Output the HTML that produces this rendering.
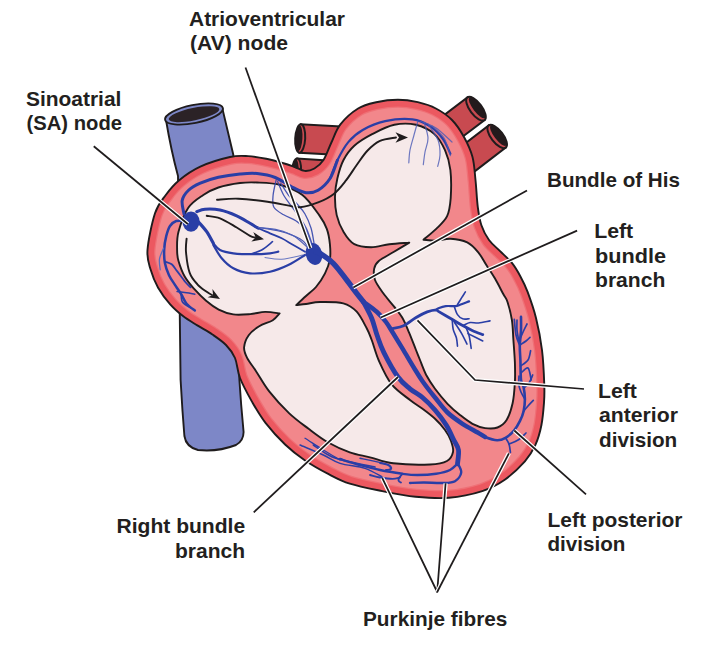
<!DOCTYPE html>
<html><head><meta charset="utf-8"><style>
html,body{margin:0;padding:0;background:#fff;width:720px;height:663px;overflow:hidden}
svg{position:absolute;left:0;top:0}
.t{font-family:"Liberation Sans",sans-serif;font-weight:bold;fill:#231f20;font-size:21px}
</style></head><body>
<svg width="720" height="663" viewBox="0 0 720 663">
<defs><clipPath id="hc"><path d="M147.5,250.0 C146.8,259.4 148.8,263.3 150.6,269.6 C152.4,275.9 154.8,281.9 158.1,287.7 C161.4,293.5 166.0,299.6 170.2,304.3 C174.3,309.0 178.5,312.5 183.0,316.0 C187.5,319.5 192.4,322.3 197.3,325.4 C202.2,328.5 207.6,331.2 212.4,334.5 C217.2,337.8 222.2,341.1 226.0,345.0 C229.8,348.9 232.7,352.5 235.0,358.0 C237.3,363.5 237.2,370.8 240.0,378.0 C242.8,385.2 247.6,393.9 251.8,401.4 C256.1,408.9 259.9,415.7 265.5,422.9 C271.1,430.1 278.6,438.3 285.1,444.5 C291.6,450.7 297.5,455.3 304.7,460.2 C311.9,465.1 320.7,470.0 328.2,473.9 C335.7,477.8 340.8,480.8 349.8,483.7 C358.8,486.6 371.2,488.9 382.2,491.1 C393.2,493.3 404.5,495.6 415.6,496.7 C426.7,497.8 437.8,498.7 448.9,497.8 C460.0,496.9 472.9,494.1 482.2,491.1 C491.4,488.1 497.3,484.9 504.4,480.0 C511.5,475.1 519.7,467.2 524.9,461.4 C530.1,455.5 532.6,450.9 535.4,444.9 C538.1,438.9 540.0,432.2 541.4,425.2 C542.8,418.1 543.5,409.3 544.0,402.6 C544.5,395.9 544.6,394.0 544.3,385.2 C544.0,376.4 543.4,361.2 542.0,350.0 C540.6,338.8 538.4,327.7 536.0,318.0 C533.6,308.3 530.2,298.9 527.6,291.9 C525.0,284.9 522.9,281.0 520.3,276.2 C517.7,271.4 515.3,267.1 511.9,262.9 C508.5,258.7 503.6,254.7 499.8,250.9 C496.0,247.1 492.1,244.3 489.0,240.0 C485.9,235.7 483.3,230.7 481.4,225.2 C479.5,219.7 478.8,214.6 477.8,207.1 C476.8,199.6 476.4,188.3 475.5,180.0 C474.6,171.7 474.4,164.2 472.5,157.0 C470.6,149.8 467.4,143.2 464.0,137.0 C460.6,130.8 456.7,124.8 452.0,120.0 C447.3,115.2 441.6,111.5 435.9,108.5 C430.2,105.5 424.1,103.7 417.8,102.2 C411.5,100.8 404.8,99.8 397.9,99.8 C391.0,99.8 382.8,100.8 376.2,102.2 C369.6,103.7 364.1,104.8 358.1,108.5 C352.1,112.2 344.8,118.7 340.4,124.4 C335.9,130.1 334.2,136.6 331.4,142.5 C328.6,148.4 326.3,155.7 323.5,160.0 C320.7,164.3 317.5,166.7 314.4,168.5 C311.2,170.3 307.9,171.2 304.6,170.9 C301.3,170.7 298.2,168.2 294.8,167.0 C291.4,165.8 289.1,164.9 284.3,163.5 C279.5,162.1 272.2,160.0 266.2,158.8 C260.2,157.6 254.1,156.4 248.1,156.1 C242.1,155.8 238.0,155.2 230.0,157.0 C222.0,158.8 208.8,162.7 200.3,166.6 C191.8,170.5 185.0,175.4 179.2,180.2 C173.4,185.0 169.6,189.7 165.6,195.2 C161.6,200.7 158.0,204.2 155.0,213.3 C152.0,222.4 148.2,240.6 147.5,250.0Z"/></clipPath></defs>
<path d="M166,120 Q171,150 178,176 L180.6,380 L182.5,411 L184.4,436 Q186,447 198,450 Q218,452 236,445 Q243.5,441 243.6,432 L241.2,405 L239.4,380 L236,300 L233.3,154.7 L222.5,109 Z" fill="#7d87c7" stroke="#1f1c1d" stroke-width="1.9"/>
<ellipse cx="194" cy="114" rx="29.5" ry="9" transform="rotate(-11.5 194 114)" fill="#7d87c7" stroke="#1f1c1d" stroke-width="1.9"/>
<ellipse cx="194" cy="114.2" rx="25.8" ry="6.2" transform="rotate(-11.5 194 114.2)" fill="#2b2226"/>
<path d="M345.8,126.8 L301.0,124.3 L299.4,152.7 L344.2,155.2Z" fill="#c84a50" stroke="#1f1c1d" stroke-width="2"/>
<ellipse cx="300.2" cy="138.5" rx="5" ry="14.2" transform="rotate(-176.8 300.2 138.5)" fill="#c84a50" stroke="#1f1c1d" stroke-width="2"/>
<ellipse cx="299.0" cy="138.4" rx="3.4" ry="12.8" transform="rotate(-176.8 299.0 138.4)" fill="#231a1c"/>
<path d="M335.8,161.0 L297.3,158.5 L295.7,182.5 L334.2,185.0Z" fill="#c84a50" stroke="#1f1c1d" stroke-width="2"/>
<ellipse cx="296.5" cy="170.5" rx="4.5" ry="12" transform="rotate(-176.3 296.5 170.5)" fill="#c84a50" stroke="#1f1c1d" stroke-width="2"/>
<ellipse cx="295.4" cy="170.4" rx="3.1" ry="10.8" transform="rotate(-176.3 295.4 170.4)" fill="#231a1c"/>
<path d="M452.6,144.3 L484.6,120.0 L467.4,97.4 L435.4,121.7Z" fill="#c84a50" stroke="#1f1c1d" stroke-width="2"/>
<ellipse cx="476.0" cy="108.7" rx="6" ry="14.2" transform="rotate(-37.2 476.0 108.7)" fill="#c84a50" stroke="#1f1c1d" stroke-width="2"/>
<ellipse cx="477.2" cy="107.8" rx="4.1" ry="12.8" transform="rotate(-37.2 477.2 107.8)" fill="#231a1c"/>
<path d="M468.5,176.1 L505.7,147.6 L488.7,125.4 L451.5,153.9Z" fill="#c84a50" stroke="#1f1c1d" stroke-width="2"/>
<ellipse cx="497.2" cy="136.5" rx="6" ry="14" transform="rotate(-37.5 497.2 136.5)" fill="#c84a50" stroke="#1f1c1d" stroke-width="2"/>
<ellipse cx="498.4" cy="135.6" rx="4.1" ry="12.6" transform="rotate(-37.5 498.4 135.6)" fill="#231a1c"/>
<g clip-path="url(#hc)"><path d="M147.5,250.0 C146.8,259.4 148.8,263.3 150.6,269.6 C152.4,275.9 154.8,281.9 158.1,287.7 C161.4,293.5 166.0,299.6 170.2,304.3 C174.3,309.0 178.5,312.5 183.0,316.0 C187.5,319.5 192.4,322.3 197.3,325.4 C202.2,328.5 207.6,331.2 212.4,334.5 C217.2,337.8 222.2,341.1 226.0,345.0 C229.8,348.9 232.7,352.5 235.0,358.0 C237.3,363.5 237.2,370.8 240.0,378.0 C242.8,385.2 247.6,393.9 251.8,401.4 C256.1,408.9 259.9,415.7 265.5,422.9 C271.1,430.1 278.6,438.3 285.1,444.5 C291.6,450.7 297.5,455.3 304.7,460.2 C311.9,465.1 320.7,470.0 328.2,473.9 C335.7,477.8 340.8,480.8 349.8,483.7 C358.8,486.6 371.2,488.9 382.2,491.1 C393.2,493.3 404.5,495.6 415.6,496.7 C426.7,497.8 437.8,498.7 448.9,497.8 C460.0,496.9 472.9,494.1 482.2,491.1 C491.4,488.1 497.3,484.9 504.4,480.0 C511.5,475.1 519.7,467.2 524.9,461.4 C530.1,455.5 532.6,450.9 535.4,444.9 C538.1,438.9 540.0,432.2 541.4,425.2 C542.8,418.1 543.5,409.3 544.0,402.6 C544.5,395.9 544.6,394.0 544.3,385.2 C544.0,376.4 543.4,361.2 542.0,350.0 C540.6,338.8 538.4,327.7 536.0,318.0 C533.6,308.3 530.2,298.9 527.6,291.9 C525.0,284.9 522.9,281.0 520.3,276.2 C517.7,271.4 515.3,267.1 511.9,262.9 C508.5,258.7 503.6,254.7 499.8,250.9 C496.0,247.1 492.1,244.3 489.0,240.0 C485.9,235.7 483.3,230.7 481.4,225.2 C479.5,219.7 478.8,214.6 477.8,207.1 C476.8,199.6 476.4,188.3 475.5,180.0 C474.6,171.7 474.4,164.2 472.5,157.0 C470.6,149.8 467.4,143.2 464.0,137.0 C460.6,130.8 456.7,124.8 452.0,120.0 C447.3,115.2 441.6,111.5 435.9,108.5 C430.2,105.5 424.1,103.7 417.8,102.2 C411.5,100.8 404.8,99.8 397.9,99.8 C391.0,99.8 382.8,100.8 376.2,102.2 C369.6,103.7 364.1,104.8 358.1,108.5 C352.1,112.2 344.8,118.7 340.4,124.4 C335.9,130.1 334.2,136.6 331.4,142.5 C328.6,148.4 326.3,155.7 323.5,160.0 C320.7,164.3 317.5,166.7 314.4,168.5 C311.2,170.3 307.9,171.2 304.6,170.9 C301.3,170.7 298.2,168.2 294.8,167.0 C291.4,165.8 289.1,164.9 284.3,163.5 C279.5,162.1 272.2,160.0 266.2,158.8 C260.2,157.6 254.1,156.4 248.1,156.1 C242.1,155.8 238.0,155.2 230.0,157.0 C222.0,158.8 208.8,162.7 200.3,166.6 C191.8,170.5 185.0,175.4 179.2,180.2 C173.4,185.0 169.6,189.7 165.6,195.2 C161.6,200.7 158.0,204.2 155.0,213.3 C152.0,222.4 148.2,240.6 147.5,250.0Z" fill="#f2878b" stroke="#ef7076" stroke-width="16"/><path d="M147.5,250.0 C146.8,259.4 148.8,263.3 150.6,269.6 C152.4,275.9 154.8,281.9 158.1,287.7 C161.4,293.5 166.0,299.6 170.2,304.3 C174.3,309.0 178.5,312.5 183.0,316.0 C187.5,319.5 192.4,322.3 197.3,325.4 C202.2,328.5 207.6,331.2 212.4,334.5 C217.2,337.8 222.2,341.1 226.0,345.0 C229.8,348.9 232.7,352.5 235.0,358.0 C237.3,363.5 237.2,370.8 240.0,378.0 C242.8,385.2 247.6,393.9 251.8,401.4 C256.1,408.9 259.9,415.7 265.5,422.9 C271.1,430.1 278.6,438.3 285.1,444.5 C291.6,450.7 297.5,455.3 304.7,460.2 C311.9,465.1 320.7,470.0 328.2,473.9 C335.7,477.8 340.8,480.8 349.8,483.7 C358.8,486.6 371.2,488.9 382.2,491.1 C393.2,493.3 404.5,495.6 415.6,496.7 C426.7,497.8 437.8,498.7 448.9,497.8 C460.0,496.9 472.9,494.1 482.2,491.1 C491.4,488.1 497.3,484.9 504.4,480.0 C511.5,475.1 519.7,467.2 524.9,461.4 C530.1,455.5 532.6,450.9 535.4,444.9 C538.1,438.9 540.0,432.2 541.4,425.2 C542.8,418.1 543.5,409.3 544.0,402.6 C544.5,395.9 544.6,394.0 544.3,385.2 C544.0,376.4 543.4,361.2 542.0,350.0 C540.6,338.8 538.4,327.7 536.0,318.0 C533.6,308.3 530.2,298.9 527.6,291.9 C525.0,284.9 522.9,281.0 520.3,276.2 C517.7,271.4 515.3,267.1 511.9,262.9 C508.5,258.7 503.6,254.7 499.8,250.9 C496.0,247.1 492.1,244.3 489.0,240.0 C485.9,235.7 483.3,230.7 481.4,225.2 C479.5,219.7 478.8,214.6 477.8,207.1 C476.8,199.6 476.4,188.3 475.5,180.0 C474.6,171.7 474.4,164.2 472.5,157.0 C470.6,149.8 467.4,143.2 464.0,137.0 C460.6,130.8 456.7,124.8 452.0,120.0 C447.3,115.2 441.6,111.5 435.9,108.5 C430.2,105.5 424.1,103.7 417.8,102.2 C411.5,100.8 404.8,99.8 397.9,99.8 C391.0,99.8 382.8,100.8 376.2,102.2 C369.6,103.7 364.1,104.8 358.1,108.5 C352.1,112.2 344.8,118.7 340.4,124.4 C335.9,130.1 334.2,136.6 331.4,142.5 C328.6,148.4 326.3,155.7 323.5,160.0 C320.7,164.3 317.5,166.7 314.4,168.5 C311.2,170.3 307.9,171.2 304.6,170.9 C301.3,170.7 298.2,168.2 294.8,167.0 C291.4,165.8 289.1,164.9 284.3,163.5 C279.5,162.1 272.2,160.0 266.2,158.8 C260.2,157.6 254.1,156.4 248.1,156.1 C242.1,155.8 238.0,155.2 230.0,157.0 C222.0,158.8 208.8,162.7 200.3,166.6 C191.8,170.5 185.0,175.4 179.2,180.2 C173.4,185.0 169.6,189.7 165.6,195.2 C161.6,200.7 158.0,204.2 155.0,213.3 C152.0,222.4 148.2,240.6 147.5,250.0Z" fill="none" stroke="#ec5860" stroke-width="13.5"/></g>
<path d="M147.5,250.0 C146.8,259.4 148.8,263.3 150.6,269.6 C152.4,275.9 154.8,281.9 158.1,287.7 C161.4,293.5 166.0,299.6 170.2,304.3 C174.3,309.0 178.5,312.5 183.0,316.0 C187.5,319.5 192.4,322.3 197.3,325.4 C202.2,328.5 207.6,331.2 212.4,334.5 C217.2,337.8 222.2,341.1 226.0,345.0 C229.8,348.9 232.7,352.5 235.0,358.0 C237.3,363.5 237.2,370.8 240.0,378.0 C242.8,385.2 247.6,393.9 251.8,401.4 C256.1,408.9 259.9,415.7 265.5,422.9 C271.1,430.1 278.6,438.3 285.1,444.5 C291.6,450.7 297.5,455.3 304.7,460.2 C311.9,465.1 320.7,470.0 328.2,473.9 C335.7,477.8 340.8,480.8 349.8,483.7 C358.8,486.6 371.2,488.9 382.2,491.1 C393.2,493.3 404.5,495.6 415.6,496.7 C426.7,497.8 437.8,498.7 448.9,497.8 C460.0,496.9 472.9,494.1 482.2,491.1 C491.4,488.1 497.3,484.9 504.4,480.0 C511.5,475.1 519.7,467.2 524.9,461.4 C530.1,455.5 532.6,450.9 535.4,444.9 C538.1,438.9 540.0,432.2 541.4,425.2 C542.8,418.1 543.5,409.3 544.0,402.6 C544.5,395.9 544.6,394.0 544.3,385.2 C544.0,376.4 543.4,361.2 542.0,350.0 C540.6,338.8 538.4,327.7 536.0,318.0 C533.6,308.3 530.2,298.9 527.6,291.9 C525.0,284.9 522.9,281.0 520.3,276.2 C517.7,271.4 515.3,267.1 511.9,262.9 C508.5,258.7 503.6,254.7 499.8,250.9 C496.0,247.1 492.1,244.3 489.0,240.0 C485.9,235.7 483.3,230.7 481.4,225.2 C479.5,219.7 478.8,214.6 477.8,207.1 C476.8,199.6 476.4,188.3 475.5,180.0 C474.6,171.7 474.4,164.2 472.5,157.0 C470.6,149.8 467.4,143.2 464.0,137.0 C460.6,130.8 456.7,124.8 452.0,120.0 C447.3,115.2 441.6,111.5 435.9,108.5 C430.2,105.5 424.1,103.7 417.8,102.2 C411.5,100.8 404.8,99.8 397.9,99.8 C391.0,99.8 382.8,100.8 376.2,102.2 C369.6,103.7 364.1,104.8 358.1,108.5 C352.1,112.2 344.8,118.7 340.4,124.4 C335.9,130.1 334.2,136.6 331.4,142.5 C328.6,148.4 326.3,155.7 323.5,160.0 C320.7,164.3 317.5,166.7 314.4,168.5 C311.2,170.3 307.9,171.2 304.6,170.9 C301.3,170.7 298.2,168.2 294.8,167.0 C291.4,165.8 289.1,164.9 284.3,163.5 C279.5,162.1 272.2,160.0 266.2,158.8 C260.2,157.6 254.1,156.4 248.1,156.1 C242.1,155.8 238.0,155.2 230.0,157.0 C222.0,158.8 208.8,162.7 200.3,166.6 C191.8,170.5 185.0,175.4 179.2,180.2 C173.4,185.0 169.6,189.7 165.6,195.2 C161.6,200.7 158.0,204.2 155.0,213.3 C152.0,222.4 148.2,240.6 147.5,250.0Z" fill="none" stroke="#1f1c1d" stroke-width="1.9"/>
<path d="M279.6,313.4 C277.2,313.1 270.1,311.8 265.2,311.9 C260.3,312.0 255.5,313.7 250.2,314.1 C244.9,314.5 238.6,315.1 233.3,314.4 C228.1,313.6 223.2,311.9 218.7,309.6 C214.2,307.3 210.1,304.2 206.1,300.8 C202.1,297.4 198.0,293.2 194.4,289.2 C190.8,285.1 187.3,281.2 184.7,276.5 C182.0,271.8 179.8,265.4 178.5,261.0 C177.2,256.6 177.1,254.9 177.1,250.0 C177.1,245.1 176.6,238.8 178.5,231.8 C180.4,224.8 184.2,213.9 188.3,207.8 C192.4,201.7 198.3,198.4 203.3,195.0 C208.3,191.6 212.3,189.5 218.4,187.5 C224.5,185.5 233.6,183.8 240.0,183.0 C246.4,182.2 250.3,182.2 257.1,182.5 C263.9,182.8 273.1,182.9 280.7,185.0 C288.2,187.1 296.0,190.0 302.4,195.0 C308.8,200.0 315.1,209.4 319.2,215.1 C323.3,220.8 325.0,224.1 326.8,228.9 C328.6,233.8 329.4,239.1 329.9,244.2 C330.4,249.3 330.7,254.5 329.9,259.4 C329.1,264.2 327.3,268.7 325.0,273.3 C322.7,277.9 319.2,283.2 316.0,287.0 C312.8,290.8 309.3,293.0 306.0,296.0 C302.7,299.0 297.8,303.6 296.2,305.1 C297.8,304.9 302.0,304.5 306.0,304.0 C310.0,303.5 313.8,302.1 320.0,302.0 C326.2,301.9 337.2,301.7 343.3,303.3 C349.4,304.9 352.8,307.5 356.7,311.7 C360.6,315.9 364.2,323.6 366.7,328.3 C369.2,333.0 369.6,334.6 371.7,340.0 C373.8,345.4 375.7,353.6 379.0,361.0 C382.3,368.4 386.5,377.9 391.7,384.4 C396.9,390.9 404.9,395.9 410.0,400.0 C415.1,404.1 418.3,405.6 422.5,408.8 C426.7,411.9 431.2,415.2 435.0,418.8 C438.8,422.3 442.3,426.3 445.0,430.0 C447.7,433.7 449.7,437.3 451.0,441.0 C452.3,444.7 453.7,448.7 453.0,452.0 C452.3,455.3 450.8,458.9 447.0,461.0 C443.2,463.1 438.9,464.1 430.0,464.5 C421.1,464.9 403.3,464.5 393.3,463.3 C383.3,462.1 377.2,459.1 370.0,457.3 C362.8,455.5 356.8,454.9 349.8,452.4 C342.8,449.9 335.1,446.4 328.2,442.5 C321.3,438.6 315.1,433.7 308.6,428.8 C302.1,423.9 295.5,419.3 289.0,413.1 C282.5,406.9 274.9,398.6 269.4,391.6 C263.9,384.7 259.9,377.0 256.2,371.4 C252.5,365.8 249.1,361.9 247.1,357.9 C245.1,353.9 243.8,351.1 244.1,347.3 C244.4,343.5 246.2,338.7 248.7,335.2 C251.2,331.7 255.2,328.7 259.2,326.2 C263.2,323.7 269.4,322.3 272.8,320.2 C276.2,318.1 278.5,314.5 279.6,313.4Z" fill="#f6e9e9" stroke="#1f1c1d" stroke-width="1.9" stroke-linejoin="round"/>
<path d="M423.5,239.7 C425.6,237.9 432.3,232.8 436.2,228.9 C440.1,225.0 444.7,221.3 447.1,216.2 C449.5,211.1 450.1,205.8 450.7,198.1 C451.2,190.4 451.3,178.1 450.4,170.1 C449.4,162.1 447.7,156.2 445.0,150.2 C442.3,144.2 438.9,138.1 434.1,133.9 C429.3,129.7 422.6,126.3 416.0,124.8 C409.4,123.3 401.5,123.3 394.3,124.8 C387.1,126.3 379.3,130.4 372.6,133.9 C365.9,137.4 359.2,141.3 354.3,145.7 C349.4,150.1 346.2,154.8 343.4,160.2 C340.6,165.6 338.8,172.3 337.4,178.3 C336.0,184.3 335.1,190.2 335.0,196.3 C334.9,202.4 335.3,209.2 336.7,215.1 C338.1,221.0 340.7,227.2 343.6,232.0 C346.5,236.8 349.7,241.7 354.3,244.2 C358.9,246.7 365.2,247.2 371.1,247.2 C377.0,247.2 383.0,245.0 389.4,244.2 C395.8,243.4 406.0,242.9 409.3,242.6 C406.8,244.1 399.1,248.7 394.0,251.8 C388.9,254.9 382.1,258.2 378.8,261.0 C375.5,263.8 374.8,265.4 374.2,268.6 C373.6,271.8 373.5,275.9 375.0,280.0 C376.5,284.1 380.2,288.9 383.3,293.3 C386.4,297.7 390.8,302.4 393.9,306.4 C397.0,310.4 399.6,313.1 402.2,317.5 C404.8,321.9 406.9,327.4 409.2,332.8 C411.5,338.2 414.2,345.5 416.0,350.0 C417.8,354.5 418.3,355.8 420.0,360.0 C421.7,364.2 423.8,370.2 426.2,375.0 C428.8,379.8 431.5,384.0 435.0,388.8 C438.5,393.5 443.3,399.4 447.5,403.8 C451.7,408.1 455.8,411.7 460.0,415.0 C464.2,418.3 468.3,421.6 472.5,423.8 C476.7,425.9 480.8,427.5 485.0,428.1 C489.2,428.7 493.9,428.9 497.5,427.5 C501.1,426.1 504.1,424.0 506.6,420.0 C509.1,416.0 511.2,409.6 512.6,403.3 C514.0,397.0 514.5,389.0 514.9,382.2 C515.3,375.4 515.1,369.6 514.9,362.6 C514.6,355.6 513.9,347.1 513.4,340.0 C512.9,332.9 512.9,326.3 511.9,320.0 C510.9,313.7 508.9,306.3 507.5,302.0 C506.1,297.7 505.5,298.2 503.4,294.3 C501.3,290.4 497.8,283.4 495.0,278.6 C492.2,273.8 489.3,269.7 486.5,265.3 C483.7,260.9 481.3,255.9 478.1,252.1 C474.9,248.3 471.8,244.6 467.2,242.4 C462.6,240.2 455.9,239.1 450.7,238.8 C445.5,238.5 440.7,240.4 436.2,240.6 C431.7,240.8 425.6,239.8 423.5,239.7Z" fill="#f6e9e9" stroke="#1f1c1d" stroke-width="1.9" stroke-linejoin="round"/>
<path d="M276.1,180.1 C275.6,182.6 273.5,190.7 273.1,195.2 C272.7,199.7 272.1,204.0 273.9,207.3 C275.7,210.6 280.0,212.6 283.7,214.8 C287.4,217.1 292.3,218.5 295.8,220.8 C299.3,223.1 302.3,224.6 304.8,228.4 C307.3,232.2 309.8,241.0 310.8,243.5" fill="none" stroke="#3547ad" stroke-width="1.3" stroke-linecap="round" stroke-linejoin="round" opacity="0.9"/>
<path d="M277.6,181.6 C278.6,183.9 281.4,191.2 283.7,195.2 C286.0,199.2 288.7,202.3 291.2,205.8 C293.7,209.3 296.3,212.5 298.8,216.3 C301.3,220.1 304.1,223.8 306.3,228.4 C308.5,233.0 311.1,241.4 312.0,244.0" fill="none" stroke="#3547ad" stroke-width="1.3" stroke-linecap="round" stroke-linejoin="round" opacity="0.9"/>
<path d="M280.7,183.1 C282.2,185.4 286.9,193.2 289.7,196.7 C292.5,200.2 294.8,201.3 297.3,204.2 C299.9,207.1 302.7,210.0 305.0,214.0 C307.3,218.0 309.5,223.2 311.0,228.0 C312.5,232.8 313.5,240.5 314.0,243.0" fill="none" stroke="#3547ad" stroke-width="1.3" stroke-linecap="round" stroke-linejoin="round" opacity="0.9"/>
<path d="M255.0,226.9 C259.3,227.7 273.1,229.4 280.7,231.4 C288.2,233.4 295.8,236.5 300.3,239.0 C304.8,241.5 306.6,245.2 307.8,246.5" fill="none" stroke="#3547ad" stroke-width="1.3" stroke-linecap="round" stroke-linejoin="round" opacity="0.9"/>
<path d="M184.0,214.0 C183.7,211.8 181.5,204.4 182.2,200.5 C182.9,196.6 185.3,193.4 188.3,190.5 C191.3,187.6 195.3,185.4 200.3,183.2 C205.3,181.0 211.8,178.8 218.4,177.3 C225.0,175.8 233.6,174.6 240.0,174.0 C246.4,173.4 251.2,172.9 257.1,173.5 C263.0,174.1 269.2,175.1 275.2,177.5 C281.2,179.9 288.2,185.2 293.3,187.7 C298.4,190.2 301.9,192.3 306.0,192.7 C310.1,193.1 314.1,192.7 318.1,190.3 C322.1,187.9 327.0,183.3 330.2,178.3 C333.4,173.3 336.2,163.2 337.4,160.2" fill="none" stroke="#2a3ea6" stroke-width="3" stroke-linecap="round" stroke-linejoin="round" opacity="1"/>
<path d="M330.2,178.3 C331.4,175.3 334.4,166.2 337.4,160.2 C340.4,154.2 344.1,147.1 348.3,142.1 C352.5,137.1 356.6,133.5 362.7,130.0 C368.8,126.5 376.9,123.0 385.2,121.2 C393.5,119.4 404.8,118.5 412.4,119.4 C419.9,120.3 425.4,123.3 430.5,126.6 C435.6,129.9 439.9,134.8 443.2,139.3 C446.5,143.8 449.2,151.4 450.4,153.8" fill="none" stroke="#2a3ea6" stroke-width="2.2" stroke-linecap="round" stroke-linejoin="round" opacity="1"/>
<path d="M418.0,121.0 C417.3,123.3 415.3,130.2 414.0,135.0 C412.7,139.8 410.9,145.4 410.0,150.0 C409.1,154.6 409.0,160.7 408.8,162.8" fill="none" stroke="#4a5ab5" stroke-width="1.2" stroke-linecap="round" stroke-linejoin="round" opacity="0.8"/>
<path d="M424.0,122.0 C424.7,124.7 427.8,133.0 428.0,138.0 C428.2,143.0 425.8,147.6 425.0,152.0 C424.2,156.4 423.6,162.5 423.3,164.6" fill="none" stroke="#4a5ab5" stroke-width="1.2" stroke-linecap="round" stroke-linejoin="round" opacity="0.8"/>
<path d="M428.0,124.0 C429.7,126.7 436.0,134.8 438.0,140.0 C440.0,145.2 440.1,150.6 440.0,155.0 C439.9,159.4 438.1,164.5 437.7,166.4" fill="none" stroke="#4a5ab5" stroke-width="1.2" stroke-linecap="round" stroke-linejoin="round" opacity="0.8"/>
<path d="M432.0,126.0 C434.0,128.0 440.9,133.1 444.0,138.0 C447.1,142.9 449.3,152.7 450.4,155.6" fill="none" stroke="#4a5ab5" stroke-width="1.2" stroke-linecap="round" stroke-linejoin="round" opacity="0.8"/>
<path d="M420.0,121.0 C422.7,122.2 430.7,124.5 436.0,128.0 C441.3,131.5 449.3,139.7 452.0,142.0" fill="none" stroke="#4a5ab5" stroke-width="1.2" stroke-linecap="round" stroke-linejoin="round" opacity="0.8"/>
<path d="M196.7,211.7 C198.1,211.3 201.1,209.5 205.0,209.2 C208.9,208.9 214.7,208.9 220.0,210.0 C225.3,211.1 231.7,213.6 236.7,215.8 C241.7,218.0 246.4,221.2 250.0,223.3 C253.6,225.4 256.9,227.5 258.3,228.3" fill="none" stroke="#2a3ea6" stroke-width="3" stroke-linecap="round" stroke-linejoin="round" opacity="1"/>
<path d="M250.0,223.3 C251.4,224.1 255.0,226.6 258.3,228.3 C261.6,230.0 266.1,231.6 270.0,233.3 C273.9,235.0 277.8,236.4 281.7,238.3 C285.6,240.2 289.4,242.8 293.3,245.0 C297.2,247.2 303.1,250.6 305.0,251.7" fill="none" stroke="#2a3ea6" stroke-width="1.8" stroke-linecap="round" stroke-linejoin="round" opacity="1"/>
<path d="M258.3,227.5 C261.6,227.9 272.2,228.5 278.3,230.0 C284.4,231.5 290.0,233.6 295.0,236.7 C300.0,239.8 306.1,246.4 308.3,248.3" fill="none" stroke="#4f60b8" stroke-width="1.1" stroke-linecap="round" stroke-linejoin="round" opacity="1"/>
<path d="M198.3,221.7 C199.7,223.4 204.2,228.1 206.7,231.7 C209.2,235.3 212.2,241.4 213.3,243.3" fill="none" stroke="#2a3ea6" stroke-width="3.2" stroke-linecap="round" stroke-linejoin="round" opacity="1"/>
<path d="M213.3,243.3 C214.4,244.4 216.7,248.3 220.0,250.0 C223.3,251.7 227.8,252.6 233.3,253.3 C238.9,254.0 247.2,254.2 253.3,254.2 C259.4,254.2 265.8,253.7 270.0,253.3 C274.2,252.9 276.9,252.0 278.3,251.7" fill="none" stroke="#2a3ea6" stroke-width="2.2" stroke-linecap="round" stroke-linejoin="round" opacity="1"/>
<path d="M250.0,254.2 C251.9,253.5 257.9,252.1 261.7,250.0 C265.4,247.9 270.7,243.1 272.5,241.7" fill="none" stroke="#2a3ea6" stroke-width="1.6" stroke-linecap="round" stroke-linejoin="round" opacity="1"/>
<path d="M265.0,257.5 C267.8,257.8 275.3,259.6 281.7,259.2 C288.1,258.8 299.7,255.7 303.3,255.0" fill="none" stroke="#6a78c2" stroke-width="1.1" stroke-linecap="round" stroke-linejoin="round" opacity="1"/>
<path d="M213.3,245.0 C214.7,247.2 218.4,254.4 221.7,258.3 C225.0,262.2 228.6,265.8 233.3,268.3 C238.0,270.8 243.9,272.7 250.0,273.3 C256.1,273.9 263.6,273.1 270.0,271.7 C276.4,270.3 282.5,267.8 288.3,265.0 C294.1,262.2 302.2,256.7 305.0,255.0" fill="none" stroke="#2a3ea6" stroke-width="2.2" stroke-linecap="round" stroke-linejoin="round" opacity="1"/>
<path d="M185.2,220.9 C183.7,220.9 178.7,220.2 176.2,221.0 C173.7,221.8 171.7,223.5 170.0,226.0 C168.3,228.5 167.3,232.0 166.3,235.9 C165.3,239.8 164.4,244.9 164.2,249.4 C164.0,253.9 164.1,258.7 164.9,263.0 C165.7,267.3 167.2,271.3 169.0,275.2 C170.8,279.1 173.8,282.9 175.8,286.1 C177.8,289.3 179.4,291.3 181.2,294.2 C183.0,297.1 184.3,301.0 186.6,303.7 C188.9,306.4 193.4,309.4 194.8,310.5" fill="none" stroke="#2a3ea6" stroke-width="2.5" stroke-linecap="round" stroke-linejoin="round" opacity="1"/>
<path d="M164.9,261.6 C166.0,262.1 169.7,262.7 171.7,264.3 C173.7,265.9 174.8,268.2 177.1,271.1 C179.4,274.1 183.0,279.3 185.3,282.0 C187.6,284.7 189.8,286.5 190.7,287.4" fill="none" stroke="#2a3ea6" stroke-width="1.8" stroke-linecap="round" stroke-linejoin="round" opacity="1"/>
<path d="M177.1,291.5 C178.7,291.7 183.6,292.4 186.6,292.8 C189.6,293.2 193.4,294.0 194.8,294.2" fill="none" stroke="#2a3ea6" stroke-width="1.6" stroke-linecap="round" stroke-linejoin="round" opacity="1"/>
<path d="M181.2,294.2 C181.4,295.6 181.0,300.0 182.6,302.3 C184.2,304.6 189.3,306.9 190.7,307.8" fill="none" stroke="#2a3ea6" stroke-width="1.6" stroke-linecap="round" stroke-linejoin="round" opacity="1"/>
<path d="M163.6,248.0 C162.9,249.8 160.1,255.3 159.5,258.9 C158.9,262.5 160.1,268.0 160.2,269.8" fill="none" stroke="#5a6bbd" stroke-width="1.3" stroke-linecap="round" stroke-linejoin="round" opacity="1"/>
<ellipse cx="191" cy="221.6" rx="8.6" ry="10.2" fill="#2a3ea6"/>
<ellipse cx="314" cy="254" rx="8.2" ry="11" transform="rotate(-12 314 254)" fill="#2a3ea6"/>
<path d="M316.0,252.0 C316.7,252.2 317.1,251.4 320.0,253.3 C322.9,255.2 328.9,258.9 333.3,263.3 C337.8,267.8 342.8,275.0 346.7,280.0 C350.6,285.0 353.9,289.7 356.7,293.3 C359.5,296.9 362.2,300.3 363.3,301.7" fill="none" stroke="#2a3ea6" stroke-width="5.4" stroke-linecap="round" stroke-linejoin="round" opacity="1"/>
<path d="M363.3,301.7 C364.7,304.5 369.4,312.8 371.7,318.3 C374.0,323.9 375.0,329.3 377.0,335.0 C379.0,340.7 380.4,345.6 383.9,352.6 C387.4,359.6 393.6,371.0 398.0,377.0 C402.4,383.0 405.9,385.3 410.0,388.8 C414.1,392.2 418.3,394.0 422.5,397.5 C426.7,401.0 431.0,405.4 435.0,410.0 C439.0,414.6 443.1,420.0 446.2,425.0 C449.4,430.0 451.7,435.8 453.8,440.0 C455.8,444.2 457.9,446.0 458.5,450.0 C459.1,454.0 457.7,461.5 457.5,463.8" fill="none" stroke="#2a3ea6" stroke-width="4.8" stroke-linecap="round" stroke-linejoin="round" opacity="1"/>
<path d="M457.5,463.8 C456.2,464.8 453.5,468.3 450.0,470.0 C446.5,471.7 441.7,472.9 436.2,473.8 C430.8,474.6 423.1,475.0 417.5,475.0 C411.9,475.0 408.8,474.6 402.5,473.8 C396.2,472.9 387.1,471.5 380.0,470.0 C372.9,468.5 366.7,466.8 360.0,465.0 C353.3,463.2 343.3,460.0 340.0,459.0" fill="none" stroke="#2a3ea6" stroke-width="2.4" stroke-linecap="round" stroke-linejoin="round" opacity="1"/>
<path d="M457.5,463.0 C458.1,464.6 461.7,469.5 461.2,472.5 C460.8,475.5 458.1,479.5 455.0,481.2 C451.9,483.0 447.7,482.8 442.5,483.0 C437.3,483.2 429.2,482.5 423.8,482.5 C418.3,482.5 412.3,482.9 410.0,483.0" fill="none" stroke="#2a3ea6" stroke-width="2.4" stroke-linecap="round" stroke-linejoin="round" opacity="1"/>
<path d="M380.0,463.0 C381.5,463.3 386.9,464.0 388.8,465.0 C390.6,466.0 391.7,467.9 391.2,468.8 C390.8,469.6 386.9,469.8 386.0,470.0" fill="none" stroke="#2a3ea6" stroke-width="1.8" stroke-linecap="round" stroke-linejoin="round" opacity="1"/>
<path d="M402.5,473.8 C401.9,474.5 399.6,476.8 399.0,478.0 C398.4,479.2 398.4,480.2 398.8,481.0 C399.1,481.8 400.6,482.2 401.0,482.5" fill="none" stroke="#2a3ea6" stroke-width="1.8" stroke-linecap="round" stroke-linejoin="round" opacity="1"/>
<path d="M370.0,475.0 C371.7,475.4 376.2,476.9 380.0,477.5 C383.8,478.1 389.2,478.8 392.5,478.8 C395.8,478.8 398.8,477.7 400.0,477.5" fill="none" stroke="#2a3ea6" stroke-width="1.8" stroke-linecap="round" stroke-linejoin="round" opacity="1"/>
<path d="M363.3,301.7 C365.5,303.4 372.9,308.3 376.7,311.7 C380.5,315.1 383.3,318.4 386.0,322.0 C388.7,325.6 390.2,328.5 393.0,333.0 C395.8,337.5 399.2,343.1 402.7,348.9 C406.2,354.6 410.4,362.1 413.8,367.5 C417.1,372.9 419.0,376.2 422.5,381.2 C426.0,386.2 430.8,392.3 435.0,397.5 C439.2,402.7 442.9,408.1 447.5,412.5 C452.1,416.9 457.1,420.2 462.5,423.8 C467.9,427.3 476.2,431.5 480.0,433.8 C483.8,436.0 484.2,436.5 485.0,437.0" fill="none" stroke="#2a3ea6" stroke-width="4.5" stroke-linecap="round" stroke-linejoin="round" opacity="1"/>
<path d="M480.0,433.8 C480.8,434.3 482.1,435.9 485.0,437.0 C487.9,438.1 493.7,440.1 497.1,440.2 C500.5,440.3 502.7,439.4 505.5,437.8 C508.3,436.2 511.6,433.4 514.0,430.6 C516.4,427.8 518.4,424.1 520.0,420.9 C521.6,417.7 522.8,414.8 523.6,411.2 C524.4,407.6 524.9,403.2 524.9,399.2 C524.9,395.2 524.2,390.3 523.6,387.1 C523.0,383.9 521.5,384.4 521.0,380.0 C520.5,375.6 520.6,366.1 520.4,360.4 C520.2,354.7 519.7,350.9 519.8,345.9 C519.9,340.9 520.8,335.0 521.0,330.2 C521.2,325.4 521.0,319.1 521.0,316.9" fill="none" stroke="#2a3ea6" stroke-width="2.6" stroke-linecap="round" stroke-linejoin="round" opacity="1"/>
<path d="M524.9,399.2 C524.2,398.0 522.0,394.4 521.0,392.0 C520.0,389.6 519.1,387.4 518.8,384.7 C518.5,382.0 519.0,377.4 519.0,376.0" fill="none" stroke="#2a3ea6" stroke-width="1.7" stroke-linecap="round" stroke-linejoin="round" opacity="1"/>
<path d="M523.6,411.2 C524.3,410.3 526.4,407.8 528.0,406.0 C529.6,404.2 532.4,401.3 533.3,400.4" fill="none" stroke="#2a3ea6" stroke-width="1.7" stroke-linecap="round" stroke-linejoin="round" opacity="1"/>
<path d="M523.6,388.0 C524.5,387.2 527.5,385.2 529.0,383.0 C530.5,380.8 532.1,376.3 532.7,375.0" fill="none" stroke="#2a3ea6" stroke-width="1.7" stroke-linecap="round" stroke-linejoin="round" opacity="1"/>
<path d="M505.5,437.8 C506.1,438.8 508.2,441.6 509.0,444.0 C509.8,446.4 510.2,450.9 510.4,452.3" fill="none" stroke="#2a3ea6" stroke-width="1.7" stroke-linecap="round" stroke-linejoin="round" opacity="1"/>
<path d="M509.0,444.0 C510.5,443.3 515.2,441.8 518.0,440.0 C520.8,438.2 524.7,434.2 526.0,433.0" fill="none" stroke="#2a3ea6" stroke-width="1.7" stroke-linecap="round" stroke-linejoin="round" opacity="1"/>
<path d="M519.8,345.9 C519.2,344.1 516.9,339.4 516.0,335.0 C515.1,330.6 514.6,321.9 514.3,319.3" fill="none" stroke="#2a3ea6" stroke-width="1.7" stroke-linecap="round" stroke-linejoin="round" opacity="1"/>
<path d="M520.4,338.0 C521.0,336.7 522.9,332.3 524.0,330.0 C525.1,327.7 526.5,325.0 527.0,324.0" fill="none" stroke="#2a3ea6" stroke-width="1.7" stroke-linecap="round" stroke-linejoin="round" opacity="1"/>
<path d="M520.0,345.0 C521.0,344.3 524.3,342.3 526.0,341.0 C527.7,339.7 529.3,338.0 530.0,337.4" fill="none" stroke="#2a3ea6" stroke-width="1.7" stroke-linecap="round" stroke-linejoin="round" opacity="1"/>
<path d="M520.6,366.0 C521.8,365.0 526.3,362.6 528.0,360.0 C529.7,357.4 530.2,352.2 530.6,350.7" fill="none" stroke="#2a3ea6" stroke-width="1.7" stroke-linecap="round" stroke-linejoin="round" opacity="1"/>
<path d="M521.0,373.0 C522.2,372.2 526.3,366.8 528.0,368.0 C529.7,369.2 530.7,378.0 531.2,380.0" fill="none" stroke="#2a3ea6" stroke-width="1.7" stroke-linecap="round" stroke-linejoin="round" opacity="1"/>
<path d="M519.0,342.0 C518.7,340.0 517.3,333.7 517.0,330.0 C516.7,326.3 517.0,321.7 517.0,320.0" fill="none" stroke="#2a3ea6" stroke-width="1.7" stroke-linecap="round" stroke-linejoin="round" opacity="1"/>
<path d="M392.5,328.6 C394.4,328.1 399.7,327.7 403.6,325.8 C407.5,323.9 412.2,319.8 416.1,317.5 C420.0,315.2 423.8,313.2 427.2,311.9 C430.6,310.6 434.4,309.9 436.3,309.8 C438.2,309.7 435.9,309.9 438.4,311.4 C440.9,312.9 447.2,316.5 451.1,318.8 C455.0,321.1 458.2,323.2 461.7,325.1 C465.2,327.0 468.7,328.8 472.2,330.4 C475.7,332.0 481.0,333.9 482.8,334.6" fill="none" stroke="#2a3ea6" stroke-width="2.8" stroke-linecap="round" stroke-linejoin="round" opacity="1"/>
<path d="M436.3,309.8 C436.6,309.5 436.8,308.8 438.4,308.2 C440.0,307.6 443.0,306.5 445.8,306.1 C448.6,305.8 453.0,306.3 455.3,306.1 C457.6,305.9 457.3,305.8 459.6,305.0 C461.9,304.2 467.5,302.0 469.1,301.4" fill="none" stroke="#2a3ea6" stroke-width="2.2" stroke-linecap="round" stroke-linejoin="round" opacity="1"/>
<path d="M457.5,304.5 C458.2,303.4 460.4,299.8 461.7,297.7 C463.0,295.6 464.8,292.9 465.4,291.9" fill="none" stroke="#2a3ea6" stroke-width="1.6" stroke-linecap="round" stroke-linejoin="round" opacity="1"/>
<path d="M454.3,306.5 C454.8,307.9 456.1,312.6 457.5,314.6 C458.9,316.7 460.8,318.1 462.7,318.8 C464.6,319.5 468.0,318.8 469.1,318.8" fill="none" stroke="#2a3ea6" stroke-width="1.6" stroke-linecap="round" stroke-linejoin="round" opacity="1"/>
<path d="M463.8,325.1 C464.9,324.7 467.6,322.9 470.1,322.5 C472.6,322.1 475.3,323.3 478.6,323.0 C481.9,322.7 488.1,321.2 490.0,320.9" fill="none" stroke="#2a3ea6" stroke-width="1.6" stroke-linecap="round" stroke-linejoin="round" opacity="1"/>
<path d="M452.2,319.8 C452.4,321.4 452.5,326.4 453.2,329.4 C453.9,332.4 455.7,335.0 456.4,337.8 C457.1,340.6 457.3,344.8 457.5,346.2" fill="none" stroke="#2a3ea6" stroke-width="1.6" stroke-linecap="round" stroke-linejoin="round" opacity="1"/>
<path d="M454.3,322.0 C455.5,323.9 459.6,329.9 461.7,333.6 C463.8,337.3 466.1,342.4 467.0,344.1" fill="none" stroke="#2a3ea6" stroke-width="1.6" stroke-linecap="round" stroke-linejoin="round" opacity="1"/>
<path d="M465.9,327.2 C466.4,328.6 468.2,332.2 469.1,335.7 C470.0,339.2 470.9,346.3 471.2,348.4" fill="none" stroke="#2a3ea6" stroke-width="1.6" stroke-linecap="round" stroke-linejoin="round" opacity="1"/>
<path d="M468.0,333.6 C470.5,334.8 480.3,339.8 482.8,341.0" fill="none" stroke="#2a3ea6" stroke-width="1.6" stroke-linecap="round" stroke-linejoin="round" opacity="1"/>
<path d="M313.3,445.0 C316.4,446.9 324.5,453.6 331.7,456.7 C338.9,459.8 349.5,461.6 356.7,463.3 C363.9,465.0 371.9,466.4 375.0,467.0" fill="none" stroke="#2a3ea6" stroke-width="1.6" stroke-linecap="round" stroke-linejoin="round" opacity="1"/>
<path d="M360.0,458.3 C363.9,459.1 378.3,461.9 383.3,463.3 C388.3,464.7 388.9,465.6 390.0,466.7 C391.1,467.8 390.0,469.4 390.0,470.0" fill="none" stroke="#2a3ea6" stroke-width="1.4" stroke-linecap="round" stroke-linejoin="round" opacity="1"/>
<path d="M300.0,445.0 C303.9,446.7 316.6,451.9 323.3,455.0 C330.0,458.1 333.1,461.1 340.0,463.3 C346.9,465.5 358.1,466.1 365.0,468.3 C371.9,470.5 378.9,475.3 381.7,476.7" fill="none" stroke="#2a3ea6" stroke-width="1.4" stroke-linecap="round" stroke-linejoin="round" opacity="1"/>
<path d="M305.0,438.3 C308.1,440.2 317.5,446.4 323.3,450.0 C329.1,453.6 337.2,458.3 340.0,460.0" fill="none" stroke="#2a3ea6" stroke-width="1.3" stroke-linecap="round" stroke-linejoin="round" opacity="1"/>
<path d="M217.0,199.7 C220.6,199.5 229.9,198.4 238.3,198.7 C246.7,199.0 259.1,200.5 267.5,201.7 C275.9,202.8 283.5,204.7 288.9,205.6 C294.3,206.5 295.1,207.7 300.0,207.2 C304.9,206.7 312.5,204.6 318.1,202.4 C323.7,200.2 329.2,197.5 333.8,193.9 C338.4,190.3 342.0,185.5 345.8,180.7 C349.6,175.9 353.1,170.0 356.7,165.0 C360.3,160.0 363.7,154.5 367.6,150.5 C371.5,146.5 375.3,143.1 380.0,140.9 C384.7,138.7 393.3,138.1 396.0,137.5" fill="none" stroke="#1f1c1d" stroke-width="1.9" stroke-linecap="round"/>
<path d="M408.0,137.5 L395.5,142.7 L399.0,137.5 L395.5,132.3Z" fill="#1f1c1d"/>
<path d="M206.7,215.8 C208.9,216.2 215.0,216.4 220.0,218.3 C225.0,220.2 231.7,224.6 236.7,227.5 C241.7,230.4 246.9,234.1 250.0,235.8 C253.1,237.5 254.2,237.2 255.0,237.5" fill="none" stroke="#1f1c1d" stroke-width="1.9" stroke-linecap="round"/>
<path d="M264.0,239.3 L251.3,241.5 L255.7,237.5 L253.3,232.1Z" fill="#1f1c1d"/>
<path d="M186.6,238.6 C186.5,240.8 185.5,246.3 186.0,252.0 C186.5,257.7 187.7,267.2 189.6,272.6 C191.5,278.0 194.5,281.1 197.4,284.3 C200.3,287.6 204.7,290.3 207.1,292.1 C209.5,293.9 211.2,294.5 212.0,295.0" fill="none" stroke="#1f1c1d" stroke-width="1.9" stroke-linecap="round"/>
<path d="M220.0,298.9 L207.6,297.3 L213.1,294.9 L212.4,289.0Z" fill="#1f1c1d"/>
<path d="M93.75,146.25 L187.8,224" fill="none" stroke="#fff" stroke-width="4.2" stroke-linejoin="round"/><path d="M93.75,146.25 L187.8,224" fill="none" stroke="#1f1c1d" stroke-width="1.75" stroke-linejoin="round"/>
<path d="M245.5,67.5 L310.3,248.3" fill="none" stroke="#fff" stroke-width="4.2" stroke-linejoin="round"/><path d="M245.5,67.5 L310.3,248.3" fill="none" stroke="#1f1c1d" stroke-width="1.75" stroke-linejoin="round"/>
<path d="M527,190.5 L353.3,287.5" fill="none" stroke="#fff" stroke-width="4.2" stroke-linejoin="round"/><path d="M527,190.5 L353.3,287.5" fill="none" stroke="#1f1c1d" stroke-width="1.75" stroke-linejoin="round"/>
<path d="M577.1,230.6 L380.8,317.5" fill="none" stroke="#fff" stroke-width="4.2" stroke-linejoin="round"/><path d="M577.1,230.6 L380.8,317.5" fill="none" stroke="#1f1c1d" stroke-width="1.75" stroke-linejoin="round"/>
<path d="M584,389 L475,380 L417.5,320.3" fill="none" stroke="#fff" stroke-width="4.2" stroke-linejoin="round"/><path d="M584,389 L475,380 L417.5,320.3" fill="none" stroke="#1f1c1d" stroke-width="1.75" stroke-linejoin="round"/>
<path d="M586,494.3 L514.3,430.5" fill="none" stroke="#fff" stroke-width="4.2" stroke-linejoin="round"/><path d="M586,494.3 L514.3,430.5" fill="none" stroke="#1f1c1d" stroke-width="1.75" stroke-linejoin="round"/>
<path d="M253.75,512.3 L398,377" fill="none" stroke="#fff" stroke-width="4.2" stroke-linejoin="round"/><path d="M253.75,512.3 L398,377" fill="none" stroke="#1f1c1d" stroke-width="1.75" stroke-linejoin="round"/>
<path d="M382.2,477.8 L437.2,592 L445.6,483.3" fill="none" stroke="#fff" stroke-width="4.2" stroke-linejoin="round"/><path d="M382.2,477.8 L437.2,592 L445.6,483.3" fill="none" stroke="#1f1c1d" stroke-width="1.75" stroke-linejoin="round"/>
<path d="M437.2,592 L508.9,453.3" fill="none" stroke="#fff" stroke-width="4.2" stroke-linejoin="round"/><path d="M437.2,592 L508.9,453.3" fill="none" stroke="#1f1c1d" stroke-width="1.75" stroke-linejoin="round"/>
<text class="t" x="189" y="25.5" textLength="156" lengthAdjust="spacingAndGlyphs">Atrioventricular</text>
<text class="t" x="190" y="49.5" textLength="98" lengthAdjust="spacingAndGlyphs">(AV) node</text>
<text class="t" x="26" y="105.75" textLength="95.4" lengthAdjust="spacingAndGlyphs">Sinoatrial</text>
<text class="t" x="26.5" y="130" textLength="95.5" lengthAdjust="spacingAndGlyphs">(SA) node</text>
<text class="t" x="547" y="186.6" textLength="133" lengthAdjust="spacingAndGlyphs">Bundle of His</text>
<text class="t" x="594.2" y="237.8" textLength="39" lengthAdjust="spacingAndGlyphs">Left</text>
<text class="t" x="595" y="262.7" textLength="71" lengthAdjust="spacingAndGlyphs">bundle</text>
<text class="t" x="595" y="287" textLength="70.3" lengthAdjust="spacingAndGlyphs">branch</text>
<text class="t" x="598" y="397.8" textLength="38.9" lengthAdjust="spacingAndGlyphs">Left</text>
<text class="t" x="599" y="421.6" textLength="78.9" lengthAdjust="spacingAndGlyphs">anterior</text>
<text class="t" x="599" y="446.8" textLength="78.2" lengthAdjust="spacingAndGlyphs">division</text>
<text class="t" x="547.5" y="527" textLength="134.9" lengthAdjust="spacingAndGlyphs">Left posterior</text>
<text class="t" x="547.5" y="551.2" textLength="77.9" lengthAdjust="spacingAndGlyphs">division</text>
<text class="t" x="116.5" y="533" textLength="128.65" lengthAdjust="spacingAndGlyphs">Right bundle</text>
<text class="t" x="175" y="558" textLength="70.1" lengthAdjust="spacingAndGlyphs">branch</text>
<text class="t" x="363" y="625.75" textLength="144.35" lengthAdjust="spacingAndGlyphs">Purkinje fibres</text>
</svg>
</body></html>
